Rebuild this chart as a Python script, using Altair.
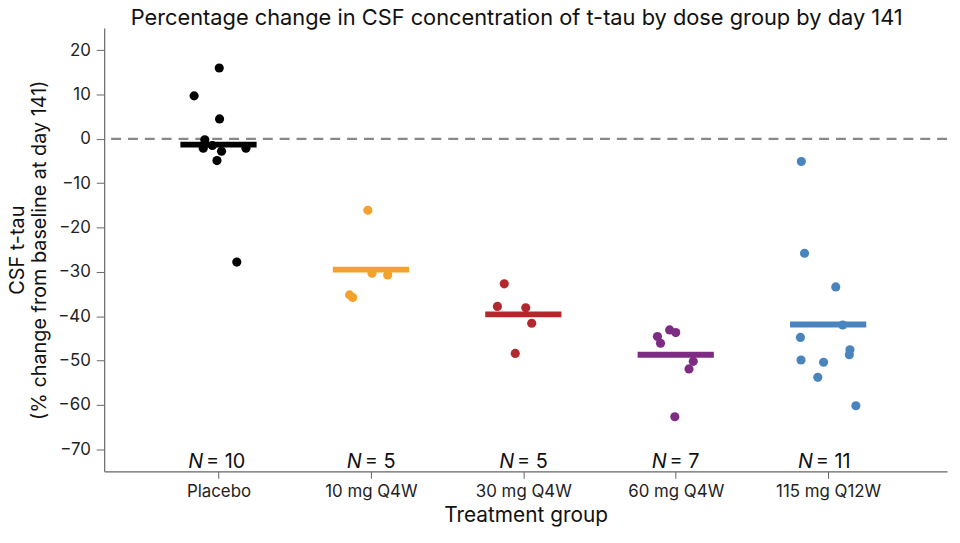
import altair as alt
import pandas as pd

groups = ["Placebo", "10 mg Q4W", "30 mg Q4W", "60 mg Q4W", "115 mg Q12W"]
colors = ["#000000", "#F4A22D", "#B3282D", "#7E2B83", "#4A84BF"]
n_counts = ["10", "5", "5", "7", "11"]
means = [-1.3, -29.5, -39.6, -48.7, -41.9]

placebo = [16.0, 9.7, 4.5, -0.2, -2.1, -1.5, -2.8, -4.9, -2.1, -27.8]
placebo_jit = [0.005, -0.16, 0.007, -0.09, -0.10, -0.04, 0.02, -0.01, 0.18, 0.12]
dose10 = [-16.1, -30.3, -30.7, -35.2, -35.8]
dose10_jit = [-0.02, 0.007, 0.11, -0.14, -0.12]
dose30 = [-32.7, -37.8, -38.1, -41.6, -48.4]
dose30_jit = [-0.125, -0.17, 0.016, 0.055, -0.053]
dose60 = [-44.6, -46.1, -43.1, -43.7, -50.2, -51.9, -62.7]
dose60_jit = [-0.12, -0.10, -0.04, 0.0, 0.115, 0.087, -0.006]
dose115 = [-5.1, -25.8, -33.4, -42.0, -44.8, -47.6, -48.7, -49.9, -50.4, -53.8, -60.2]
dose115_jit = [-0.176, -0.155, 0.05, 0.095, -0.182, 0.143, 0.139, -0.178, -0.03, -0.068, 0.182]

values = [placebo, dose10, dose30, dose60, dose115]
jitters = [placebo_jit, dose10_jit, dose30_jit, dose60_jit, dose115_jit]

rows = []
for i, (g, vals, jits) in enumerate(zip(groups, values, jitters)):
    for v, j in zip(vals, jits):
        rows.append({"group": g, "idx": i, "value": v, "jit": j})
points_df = pd.DataFrame(rows)
summary_df = pd.DataFrame({"group": groups, "idx": list(range(len(groups))),
                           "mean": means, "n": n_counts})

label_expr = "[" + ",".join("'" + g + "'" for g in groups) + "][datum.value]"
color_scale = alt.Scale(domain=groups, range=colors)

FONT = "Inter, Roboto, Liberation Sans"

x_scale = alt.Scale(domain=[-0.75, 4.78], nice=False, zero=False)
y_scale = alt.Scale(domain=[-75, 25], nice=False)

x_axis = alt.Axis(values=[0, 1, 2, 3, 4], labelExpr=label_expr, grid=False,
                  title="Treatment group", titleFont=FONT, titleFontSize=21,
                  titleFontWeight="normal", titleColor="#111", titlePadding=6,
                  labelFont=FONT, labelFontSize=17, labelColor="#222",
                  labelPadding=5, tickSize=7, tickColor="#666",
                  domainColor="#666", domainWidth=1.2)
y_axis = alt.Axis(values=list(range(-70, 30, 10)), grid=False,
                  title=["CSF t-tau", "(% change from baseline at day 141)"],
                  titleFont=FONT, titleFontSize=20, titleFontWeight="normal",
                  titleColor="#111", titleLineHeight=22, titlePadding=8,
                  labelFont=FONT, labelFontSize=17, labelColor="#222",
                  labelPadding=6, tickSize=8, tickColor="#666",
                  domainColor="#666", domainWidth=1.2)

zero = alt.Chart(pd.DataFrame({"y": [0]})).mark_rule(
    color="#888888", strokeWidth=2.5, strokeDash=[10, 7]
).encode(y=alt.Y("y:Q", scale=y_scale, axis=y_axis))

pts = alt.Chart(points_df).transform_calculate(
    xpos="datum.idx + datum.jit"
).mark_circle(size=85, opacity=1).encode(
    x=alt.X("xpos:Q", scale=x_scale, axis=x_axis),
    y=alt.Y("value:Q", scale=y_scale, axis=y_axis),
    color=alt.Color("group:N", scale=color_scale, legend=None),
)

mean_bars = alt.Chart(summary_df).transform_calculate(
    x1="datum.idx - 0.25", x2="datum.idx + 0.25"
).mark_rule(strokeWidth=6).encode(
    x=alt.X("x1:Q", scale=x_scale, axis=x_axis),
    x2="x2:Q",
    y=alt.Y("mean:Q", scale=y_scale),
    color=alt.Color("group:N", scale=color_scale, legend=None),
)

left_expr = "datum.idx - (36 + 12.5 * length(datum.n)) / 2 / 153.6"
n_italic = alt.Chart(summary_df).transform_calculate(
    xs=left_expr
).mark_text(font=FONT, fontSize=20, fontStyle="italic", align="left",
            baseline="alphabetic", color="#111").encode(
    x=alt.X("xs:Q", scale=x_scale, axis=x_axis),
    y=alt.datum(-74.3),
    text=alt.value("N"),
)
n_rest = alt.Chart(summary_df).transform_calculate(
    xs=left_expr,
    label="'= ' + datum.n"
).mark_text(font=FONT, fontSize=20, align="left", dx=18,
            baseline="alphabetic", color="#111").encode(
    x=alt.X("xs:Q", scale=x_scale, axis=x_axis),
    y=alt.datum(-74.3),
    text="label:N",
)

chart = alt.layer(zero, pts, mean_bars, n_italic, n_rest).properties(
    width=850, height=447,
    autosize=alt.AutoSizeParams(type="none"),
    padding={"left": 97, "top": 18, "right": 5, "bottom": 60},
    title=alt.TitleParams(
        "Percentage change in CSF concentration of t-tau by dose group by day 141",
        font=FONT, fontSize=22, fontWeight="normal", color="#111",
        anchor="middle", offset=-2, dx=-9),
).configure_view(stroke=None)

chart.save("out.html", embed_options={"renderer": "svg", "actions": False})
